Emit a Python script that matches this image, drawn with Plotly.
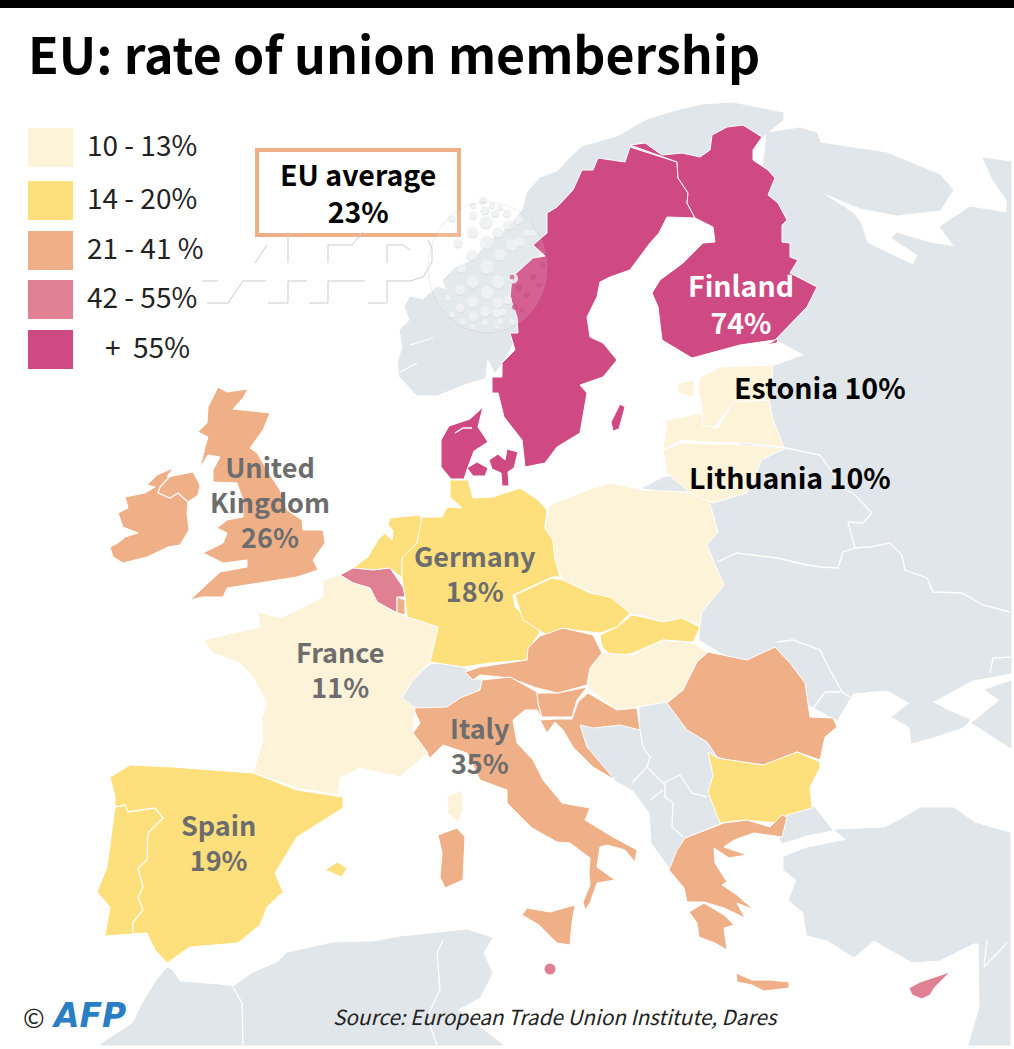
import plotly.graph_objects as go

countries = ["Finland", "Sweden", "Denmark", "Belgium", "Cyprus", "Malta", "United Kingdom", "Ireland", "Italy",
             "Austria", "Slovenia", "Croatia", "Luxembourg", "Romania", "Greece", "Germany", "Spain", "Netherlands",
             "Czech Republic", "Slovakia", "Bulgaria", "France", "Poland", "Hungary", "Estonia", "Latvia", "Lithuania"]
rates = [74, 67, 67, 50, 45, 50, 26, 29, 35, 27, 25, 35, 33, 30, 25, 18, 19, 18, 14, 14, 14, 11, 13, 11, 10, 13, 10]

class_labels = ["10 - 13%", "14 - 20%", "21 - 41 %", "42 - 55%", "+ \u00a055%"]
class_upper = [13, 20, 41, 55, 100]
class_colors = ["#fdf3d9", "#fddf7c", "#efb088", "#df8093", "#cf4a82"]
land_grey = "#e1e6ea"

# outlines, in picture units
norway = [(398,363),(400,377),(417,395),(437,395),(467,383),(485,378),(487,357),(495,372),(502,363),(520,330),(540,250),(600,160),(700,165),(762,137),(783,120),(783,113),(733,103),(703,105),(680,110),(647,120),(617,137),(582,147),(570,158),(557,172),(540,178),(527,193),(523,210),(503,233),(490,240),(473,260),(455,268),(443,280),(447,290),(437,287),(423,300),(410,297),(405,307),(410,320),(400,330),(403,347)]
russia = [(767,133),(800,128),(817,133),(820,143),(887,153),(940,175),(953,190),(940,210),(897,215),(860,208),(817,190),(853,213),(860,222),(867,243),(913,265),(918,255),(892,238),(897,233),(930,243),(955,247),(940,227),(970,207),(1007,213),(1007,200),(993,180),(983,158),(1011,162),(1011,673),(973,680),(932,702),(947,710),(970,720),(963,727),(933,737),(912,743),(910,727),(892,717),(910,703),(887,690),(853,693),(837,720),(800,700),(700,640),(707,493),(690,495),(660,490),(643,488),(663,478),(700,470),(760,430),(772,367),(805,355),(777,340),(760,200)]
caucasus = [(1011,681),(985,690),(1000,700),(972,723),(1011,748)]
balkans = [(580,725),(593,728),(620,725),(640,730),(640,707),(667,702),(687,730),(707,742),(717,757),(708,752),(713,775),(708,792),(720,823),(685,837),(677,857),(670,868),(652,843),(650,813),(633,790),(615,780),(587,747)]
switzerland = [(402,698),(413,680),(430,665),(453,663),(467,670),(472,680),(482,680),(478,690),(460,698),(448,707),(430,707),(415,708)]
thrace = [(785,818),(797,807),(814,807),(832,830),(807,835),(782,843),(780,837)]
anatolia = [(784,857),(807,848),(847,840),(835,830),(884,828),(900,820),(920,808),(954,808),(975,823),(1010,833),(1010,1045),(969,1045),(980,1007),(979,943),(974,943),(940,960),(912,962),(874,940),(854,957),(827,940),(807,935),(804,913),(789,900),(797,880),(784,870)]
north_africa = [(167,968),(172,970),(180,982),(220,985),(233,987),(253,973),(277,963),(287,953),(333,943),(373,942),(400,937),(447,932),(467,930),(492,938),(483,953),(492,973),(480,997),(457,1010),(493,1037),(503,1045),(100,1045),(133,1023),(143,1003),(157,980)]

sweden = [(630,147),(677,162),(678,178),(688,193),(687,203),(695,218),(667,217),(659,233),(650,243),(630,270),(610,277),(600,282),(597,297),(587,317),(590,337),(603,343),(617,360),(603,377),(580,385),(587,393),(580,433),(557,447),(545,463),(525,467),(522,440),(504,417),(498,393),(492,393),(492,377),(502,377),(502,363),(515,350),(510,333),(518,333),(517,317),(510,297),(512,277),(533,258),(545,256),(533,245),(547,233),(547,213),(557,207),(573,190),(582,170),(593,170),(598,158),(625,162)]
finland = [(630,145),(645,143),(662,155),(682,153),(700,157),(710,150),(712,135),(727,127),(743,125),(762,137),(753,150),(753,160),(768,170),(775,178),(768,195),(778,203),(787,220),(782,225),(782,242),(790,243),(790,257),(798,260),(790,273),(817,287),(807,307),(775,340),(740,345),(692,358),(662,340),(658,307),(652,293),(660,280),(683,263),(703,243),(715,242),(713,227),(695,218),(687,203),(688,193),(678,178),(677,162)]
jutland = [(441,467),(441,440),(449,426),(470,419),(483,407),(478,427),(488,442),(474,451),(468,467),(464,479),(451,479)]
funen = [(467,468),(477,462),(488,468),(485,476),(473,476)]
zealand = [(489,460),(498,454),(505,460),(507,449),(518,452),(514,468),(508,472),(509,486),(502,486),(501,473),(492,469)]
gotland = [(611,422),(620,404),(625,407),(619,429),(613,431)]
great_britain = [(218,387),(227,392),(248,389),(243,398),(233,409),(270,413),(263,430),(250,448),(257,453),(267,470),(280,490),(287,510),(302,520),(303,530),(323,530),(325,543),(313,560),(318,570),(297,577),(260,583),(227,588),(223,597),(202,597),(190,600),(213,578),(220,572),(247,567),(247,560),(223,563),(203,553),(223,543),(227,533),(217,528),(227,520),(243,517),(243,500),(237,483),(213,482),(213,470),(220,457),(208,455),(200,468),(205,447),(208,437),(198,432),(207,423),(208,407)]
ireland = [(110,547),(118,543),(125,537),(138,533),(123,527),(118,513),(128,508),(125,497),(145,493),(155,487),(147,485),(157,475),(173,468),(167,477),(193,472),(200,485),(198,495),(188,502),(187,513),(189,530),(180,545),(168,547),(147,557),(123,563),(113,557)]
belgium = [(340,575),(353,568),(373,570),(390,568),(403,587),(405,597),(397,597),(397,613),(377,602),(370,588),(353,583)]
luxembourg = [(397,597),(405,600),(405,615),(397,613)]
netherlands = [(357,565),(368,557),(378,540),(385,533),(392,540),(393,530),(388,525),(390,518),(420,515),(422,523),(417,543),(402,558),(402,578),(390,568),(373,570),(353,568)]
germany = [(450,480),(468,480),(473,498),(493,497),(520,488),(538,500),(547,510),(545,528),(553,540),(555,558),(560,577),(552,577),(513,595),(515,607),(540,632),(528,650),(527,660),(490,663),(463,667),(430,662),(438,627),(407,617),(405,597),(402,578),(402,558),(417,543),(422,517),(442,517),(447,507),(462,508),(450,497)]
poland = [(550,505),(587,490),(610,483),(643,490),(707,493),(718,532),(707,545),(713,560),(724,585),(702,612),(700,625),(683,618),(663,622),(642,615),(632,615),(610,597),(597,595),(563,580),(555,560),(553,540),(545,528)]
czechia = [(515,595),(552,578),(563,580),(590,593),(610,597),(630,613),(617,627),(600,633),(573,630),(563,628),(550,637),(523,620)]
slovakia = [(600,635),(617,627),(632,615),(643,617),(663,622),(682,618),(700,627),(693,642),(663,640),(633,653),(613,657),(602,647)]
hungary = [(602,653),(633,655),(663,640),(693,643),(707,652),(697,663),(683,690),(667,702),(637,707),(617,710),(588,688),(590,668)]
austria = [(465,672),(480,667),(527,660),(528,648),(540,636),(563,628),(593,635),(602,653),(590,668),(587,685),(558,693),(537,688),(510,678),(480,675),(473,680)]
slovenia = [(537,693),(558,693),(587,687),(577,700),(572,717),(555,717),(542,717),(538,703)]
croatia = [(588,693),(617,710),(637,708),(640,730),(620,725),(593,728),(580,725),(587,747),(615,780),(593,767),(573,747),(563,730),(555,722),(547,733),(540,720),(555,719),(572,719),(578,702)]
italy = [(413,708),(447,707),(460,698),(480,690),(482,680),(510,677),(537,692),(538,703),(542,718),(537,710),(525,710),(513,720),(517,743),(533,760),(543,780),(562,803),(590,808),(585,820),(613,837),(637,850),(635,862),(625,850),(607,845),(600,847),(597,867),(615,880),(597,883),(590,903),(585,910),(583,902),(590,885),(589,873),(590,858),(570,843),(557,842),(532,828),(517,813),(507,803),(507,790),(480,780),(467,753),(443,745),(430,758),(413,733),(420,723)]
sicily = [(522,915),(527,908),(550,912),(575,905),(572,923),(570,945),(557,943),(539,925)]
sardinia = [(438,835),(457,828),(465,837),(463,880),(445,888),(440,877),(442,853)]
corsica = [(447,797),(462,790),(463,810),(458,822),(448,813)]
france = [(203,640),(233,633),(260,627),(258,612),(280,618),(297,610),(323,597),(323,580),(340,575),(353,583),(370,588),(377,602),(397,613),(407,617),(438,627),(430,662),(413,680),(402,698),(415,708),(413,733),(428,753),(400,777),(360,768),(340,778),(338,795),(297,788),(253,773),(263,740),(262,717),(267,703),(253,677),(240,663),(213,653)]
iberia = [(110,777),(130,765),(173,767),(213,770),(253,773),(297,790),(343,797),(343,808),(297,837),(275,873),(283,892),(267,907),(260,925),(238,943),(190,947),(167,963),(155,950),(147,933),(105,936),(110,907),(97,892),(107,867),(115,807),(115,797)]
mallorca = [(325,870),(337,862),(347,868),(342,877)]
romania = [(697,662),(708,652),(747,660),(775,647),(790,663),(805,683),(810,717),(833,718),(837,727),(825,737),(820,760),(797,752),(767,765),(733,762),(717,757),(707,742),(687,730),(667,703),(683,690)]
bulgaria = [(708,752),(717,758),(763,765),(797,752),(820,762),(820,768),(810,787),(812,808),(787,815),(777,823),(743,820),(720,823),(708,792),(713,775)]
greece = [(685,838),(724,823),(747,820),(770,827),(782,815),(787,817),(782,837),(754,833),(734,840),(724,847),(747,855),(729,858),(714,848),(715,863),(727,882),(722,885),(737,895),(754,910),(737,903),(745,918),(724,908),(704,902),(687,902),(684,888),(669,870),(677,850)]
peloponnese = [(689,912),(704,903),(724,915),(734,925),(724,928),(727,950),(715,943),(699,937),(697,923)]
crete = [(736,973),(752,980),(770,980),(789,982),(789,988),(764,991),(752,985),(737,982)]
cyprus = [(909,988),(920,982),(950,972),(935,987),(930,995),(922,999),(912,995)]
estonia = [(700,377),(720,367),(773,365),(771,393),(769,400),(733,402),(714,428),(702,425),(702,407),(698,390)]
saaremaa = [(678,383),(694,380),(694,397),(678,393)]
latvia = [(667,420),(702,413),(702,425),(718,428),(733,402),(769,400),(773,420),(784,447),(745,443),(706,442),(682,440),(663,450)]
lithuania = [(663,450),(682,443),(745,445),(786,448),(761,460),(753,483),(747,493),(713,503),(690,493),(667,473)]
vyborg_tip = [(765,345),(777,343),(778,338),(772,342)]
malta = [(550, 969)]

# white frontier and inlet lines inside one filled area
borders = [
    [(115,807),(125,805),(128,812),(155,808),(163,818),(148,833),(147,860),(138,868),(143,887),(138,897),(143,910),(133,922),(133,933)],
    [(173,473),(160,487),(158,493),(170,498),(178,493),(188,502)],
    [(455,433),(463,428),(472,428)],
    [(640,730),(643,747),(650,757),(647,767),(632,783)],
    [(647,767),(663,783),(680,775),(692,793),(707,797)],
    [(665,783),(665,797),(673,803),(672,827),(683,837)],
    [(650,800),(663,790)],
    [(717,562),(737,553),(777,558),(807,565),(820,567),(838,568),(843,552),(855,548),(870,547),(890,543),(902,555),(905,570),(927,578),(933,592),(962,593),(983,605),(1010,612)],
    [(786,448),(820,455),(845,490),(853,493),(872,513),(863,523),(848,522),(855,548)],
    [(777,642),(793,640),(820,650),(830,670),(842,692),(850,697)],
    [(810,713),(825,692),(840,692)],
    [(990,673),(993,658),(1011,657)],
    [(233,987),(242,1003),(243,1045)],
    [(443,940),(437,953),(440,990),(427,1017),(437,1045)],
    [(987,940),(984,967),(1007,943)],
    [(410,345),(433,338)],
    [(400,372),(417,363)],
]

# thin remains of the AFP watermark
watermark_lines = [
    [(255,263),(267,245)], [(288,232),(288,263)], [(202,281),(218,281)],
    [(207,303),(228,303),(243,281),(266,281)], [(268,303),(288,303),(288,281),(307,281)],
    [(309,303),(328,303),(328,281),(365,281)], [(328,263),(328,245),(352,245),(363,232)],
    [(368,303),(387,303),(387,281),(410,281),(423,277),(432,262),(432,248),(428,240)],
    [(387,263),(387,245),(403,245),(410,250)],
]

# watermark ball: dimples on the land and holes in Sweden
dimple_x = [473,483,492,500,452,473,485,495,507,518,458,473,486,498,508,520,527,462,472,487,500,512,533,460,473,487,498,513,448,460,473,487,498,508,452,473,485,497,503,463,485,500,512,473,497]
dimple_y = [205,200,205,207,218,215,210,213,213,220,243,232,222,232,225,242,233,268,255,242,255,245,233,290,282,267,282,278,298,308,302,293,303,300,315,317,312,313,312,322,323,322,322,327,327]
dimple_size = [6,7,6,6,7,8,9,8,8,8,9,11,13,11,10,9,7,9,11,14,12,12,6,10,12,14,13,10,6,9,11,13,11,8,6,9,10,9,7,6,6,6,6,5,5]
hole_x = [519,533,527,539,515,522,543,512,538]
hole_y = [288,277,295,285,307,310,265,277,245]
hole_size = [7,6,6,5,6,5,5,5,4]

stacked_labels = [
    ("Finland<br>74%", 741, 303, "white", 28.5),
    ("United<br>Kingdom<br>26%", 270, 501, "#6d6d6d", 27),
    ("Germany<br>18%", 475, 573, "#6d6d6d", 27),
    ("France<br>11%", 340, 669, "#6d6d6d", 27),
    ("Italy<br>35%", 480, 745, "#6d6d6d", 27),
    ("Spain<br>19%", 218, 842, "#6d6d6d", 27),
    ("Estonia 10%", 820, 386, "black", 28.5),
    ("Lithuania 10%", 790, 476, "black", 28.5),
]

FONT = "Noto Sans CJK SC"


def rate_color(country):
    rate = rates[countries.index(country)]
    for upper, color in zip(class_upper, class_colors):
        if rate <= upper:
            return color


def region(outline, color, edge="white"):
    xs = [p[0] for p in outline]
    ys = [p[1] for p in outline]
    return go.Scatter(x=xs + xs[:1], y=ys + ys[:1], mode="lines", fill="toself", fillcolor=color,
                      line=dict(color=edge, width=1), hoverinfo="skip", showlegend=False)


def polyline(points, color, width):
    return go.Scatter(x=[p[0] for p in points], y=[p[1] for p in points], mode="lines",
                      line=dict(color=color, width=width), hoverinfo="skip", showlegend=False)


fig = go.Figure()

for shape in [norway, russia, caucasus, balkans, switzerland, thrace, anatolia, north_africa]:
    fig.add_trace(region(shape, land_grey, edge=land_grey))

country_shapes = [
    ("Sweden", sweden), ("Sweden", gotland), ("Finland", finland), ("Finland", vyborg_tip), ("Denmark", jutland),
    ("Denmark", funen), ("Denmark", zealand), ("United Kingdom", great_britain), ("Ireland", ireland),
    ("Netherlands", netherlands), ("Germany", germany), ("Belgium", belgium), ("Luxembourg", luxembourg),
    ("Poland", poland), ("Czech Republic", czechia), ("Slovakia", slovakia), ("Hungary", hungary),
    ("Austria", austria), ("Italy", italy), ("Italy", sicily), ("Italy", sardinia), ("Slovenia", slovenia),
    ("Croatia", croatia), ("France", france), ("France", corsica), ("Spain", iberia), ("Spain", mallorca),
    ("Romania", romania), ("Bulgaria", bulgaria), ("Greece", greece), ("Greece", peloponnese), ("Greece", crete),
    ("Cyprus", cyprus), ("Estonia", estonia), ("Estonia", saaremaa), ("Latvia", latvia), ("Lithuania", lithuania),
]
for name, shape in country_shapes:
    fig.add_trace(region(shape, rate_color(name)))

fig.add_trace(go.Scatter(x=[p[0] for p in malta], y=[p[1] for p in malta], mode="markers",
                         marker=dict(size=11, color=rate_color("Malta")), hoverinfo="skip", showlegend=False))

for line in borders:
    fig.add_trace(polyline(line, "white", 1.3))
for line in watermark_lines:
    fig.add_trace(polyline(line, "#cbcbcb", 1))

# a grey disc with a pale one just above it leaves only the lower crescent
fig.add_trace(go.Scatter(x=dimple_x, y=[v + 1 for v in dimple_y], mode="markers",
                         marker=dict(size=dimple_size, color="#ced3d6", line_width=0), hoverinfo="skip", showlegend=False))
fig.add_trace(go.Scatter(x=dimple_x, y=dimple_y, mode="markers",
                         marker=dict(size=dimple_size, color="#f6f7f8", line_width=0), hoverinfo="skip", showlegend=False))
fig.add_trace(go.Scatter(x=hole_x, y=hole_y, mode="markers",
                         marker=dict(size=hole_size, color="#b93c72", line_width=0), hoverinfo="skip", showlegend=False))

shapes = [dict(type="rect", x0=0, x1=1014, y0=0, y1=8, fillcolor="black", line_width=0, layer="above")]
annotations = []


def add_text(text, x, y, size, color="black", bold=True, anchor="center", italic=False, family=FONT):
    annotations.append(dict(text=text, x=x, y=y, xref="x", yref="y", showarrow=False, xanchor=anchor, yanchor="middle",
                            font=dict(family=family, size=size, color=color, weight="bold" if bold else "normal",
                                      style="italic" if italic else "normal")))


# legend
legend_tops = [128, 181, 231, 280, 330]
legend_text_x = [85, 85, 85, 85, 103]
for top, text_x, label, color in zip(legend_tops, legend_text_x, class_labels, class_colors):
    shapes.append(dict(type="rect", x0=28, x1=73, y0=top, y1=top + 39, fillcolor=color, line_width=0))
    add_text(label, text_x, top + 16, 28, color="#222222", bold=False, anchor="left")

# EU average box
shapes.append(dict(type="rect", x0=257, x1=459, y0=150, y1=235, fillcolor="white",
                   line=dict(color="#efb088", width=4), layer="below"))
add_text("EU average<br>23%", 358, 192, 28.5)

# watermark ball
shapes.append(dict(type="circle", x0=428, x1=547, y0=202, y1=333, fillcolor="rgba(255,255,255,0.13)",
                   line=dict(color="rgba(170,170,170,0.2)", width=1), layer="above"))

for text, x, y, color, size in stacked_labels:
    add_text(text, x, y, size, color=color)

add_text("EU: rate of union membership", 26, 52, 50, anchor="left")
add_text("©", 34, 1016, 26, bold=False, color="#222222")
add_text("AFP", 88, 1015, 33, color="#2a7fc4", italic=True, family="DejaVu Sans")
add_text("Source: European Trade Union Institute, Dares", 331, 1016, 20.7, color="#222222", bold=False,
         italic=True, anchor="left")

fig.update_layout(
    margin=dict(l=0, r=0, t=0, b=0),
    width=1014,
    height=1049,
    paper_bgcolor="white",
    plot_bgcolor="white",
    xaxis=dict(range=[0, 1014], visible=False, fixedrange=True),
    yaxis=dict(range=[1049, 0], visible=False, fixedrange=True),
    shapes=shapes,
    annotations=annotations,
)

fig.write_html("out.html", post_script="document.body.style.margin='0';", config={"displayModeBar": False})
